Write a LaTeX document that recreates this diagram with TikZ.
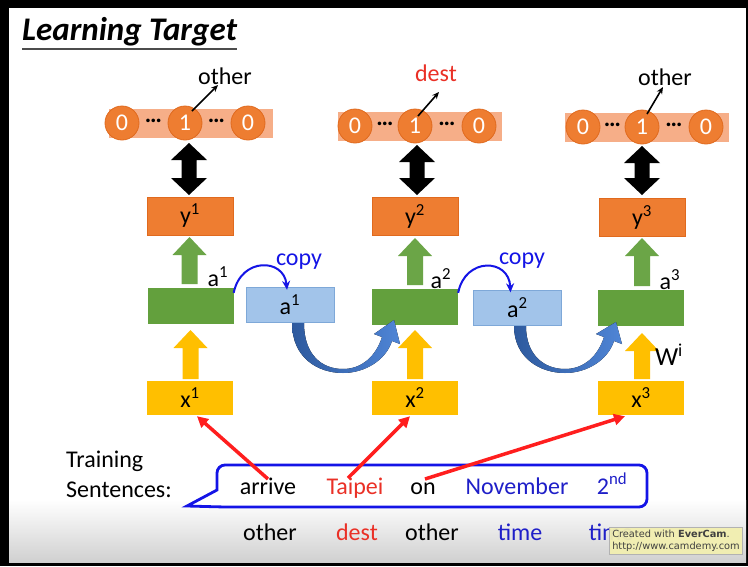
\documentclass[tikz,border=0pt]{standalone}
\usepackage{fontspec}
\setmainfont{Carlito}
\newfontfamily\wmfont{DejaVu Sans}
\usetikzlibrary{arrows.meta,calc}
\definecolor{orfill}{HTML}{EE7D31}
\definecolor{ordraw}{HTML}{E06A1E}
\definecolor{barfill}{HTML}{F6AE88}
\definecolor{grfill}{HTML}{63A03D}
\definecolor{grarrow}{HTML}{6BA547}
\definecolor{yel}{HTML}{FFBF00}
\definecolor{lblue}{HTML}{A2C4EA}
\definecolor{lbdraw}{HTML}{7EA8D8}
\definecolor{cdark}{HTML}{2E5A9E}
\definecolor{clight}{HTML}{4F85D6}
\definecolor{copyblue}{HTML}{1414E6}
\definecolor{txtblue}{HTML}{1F1FC8}
\definecolor{txtred}{HTML}{EA3026}
\definecolor{redline}{HTML}{FF1E1E}
\definecolor{wmfill}{HTML}{F2EFB0}
\newcommand\myfs{\fontsize{24}{30}\selectfont}
\newcommand\myup[4]{\fill[#4] (#1-8,#3) -- (#1-8,#2+18) -- (#1-17,#2+18) -- (#1,#2) -- (#1+17,#2+18) -- (#1+8,#2+18) -- (#1+8,#3) -- cycle;}
\newcommand\mydbl[3]{\fill[black] (#1,#2) -- (#1+18,#2+17) -- (#1+7.5,#2+17) -- (#1+7.5,#3-17) -- (#1+18,#3-17) -- (#1,#3) -- (#1-18,#3-17) -- (#1-7.5,#3-17) -- (#1-7.5,#2+17) -- (#1-18,#2+17) -- cycle;}
\begin{document}
\begin{tikzpicture}[x=1pt,y=-1pt,
  every node/.style={font=\myfs, inner sep=0pt},
  word/.style={anchor=base},
  box/.style={rectangle, minimum width=86pt, minimum height=37pt},
  ybox/.style={box, minimum height=38pt, fill=orfill, draw=ordraw},
  gbox/.style={box, minimum height=36pt, fill=grfill},
  xbox/.style={box, minimum height=34pt, fill=yel},
  bbox/.style={box, minimum width=88pt, minimum height=35pt, fill=lblue, draw=lbdraw},
  barbox/.style={rectangle, minimum width=164pt, minimum height=29pt, fill=barfill},
  circ/.style={circle, minimum size=34pt, fill=orfill, draw=ordraw, line width=0.8pt, text=white},
  dotsn/.style={font=\fontsize{24}{24}\selectfont\bfseries},
  copyarr/.style={-{Stealth[length=9pt,width=8pt]}, line width=2pt, draw=copyblue},
  redarr/.style={-{Triangle[length=11pt,width=11pt]}, line width=3.5pt, draw=redline},
  ptr/.style={-{Stealth[length=7pt,width=6pt]}, line width=1.6pt},
  bubble/.style={draw=copyblue, line width=2.8pt, fill=white}
]
\useasboundingbox (0,0) rectangle (748,566);
% background and frame
\fill[black] (0,0) rectangle (748,566);
\fill[white] (9,8) rectangle (746,500);
\shade[top color=white, bottom color={rgb,255:red,208;green,208;blue,208}] (9,500) rectangle (746,562);

% title
\node[anchor=base west, font=\fontsize{33}{38}\selectfont\bfseries\itshape] (title) at (22,40) {Learning Target};
\draw[line width=2pt, black!70] (title.south west |- 0,49) -- (title.south east |- 0,49);

% ---------- one-hot bars ----------
\node[barbox] (bar1) at (191,123.5) {};
\node[barbox] (bar2) at (420,126) {};
\node[barbox] (bar3) at (647,127.5) {};
\node[circ] (l1) at (122,123) {0};
\node[circ] (m1) at (185,123) {1};
\node[circ] (r1) at (248,123) {0};
\node[circ] (l2) at (355,126) {0};
\node[circ] (m2) at (415,126) {1};
\node[circ] (r2) at (479,126) {0};
\node[circ] (l3) at (583,127) {0};
\node[circ] (m3) at (642,127) {1};
\node[circ] (r3) at (706,127) {0};
\node[dotsn] (d1a) at (153.5,121) {…};
\node[dotsn] (d1b) at (216.5,121) {…};
\node[dotsn] (d2a) at (385,124) {…};
\node[dotsn] (d2b) at (447,124) {…};
\node[dotsn] (d3a) at (612.5,125) {…};
\node[dotsn] (d3b) at (674,125) {…};

\node[word] (lab1) at (225,84) {other};
\node[word, text=txtred] (lab2) at (436,81) {dest};
\node[word] (lab3) at (665,85) {other};
\coordinate (t1) at (218,85);
\coordinate (t2) at (439,92);
\coordinate (t3) at (663,87);
\draw[ptr] ($(m1)+(7,-12)$) -- (t1);
\draw[ptr] ($(m2)+(3,-10)$) -- (t2);
\draw[ptr] ($(m3)+(5,-13)$) -- (t3);

% double arrows
\mydbl{189}{143}{195}
\mydbl{417}{145}{195}
\mydbl{642}{146}{195}

% ---------- y boxes ----------
\node[ybox] (y1) at (190,216) {y\textsuperscript{1}};
\node[ybox] (y2) at (415,216) {y\textsuperscript{2}};
\node[ybox] (y3) at (642,217) {y\textsuperscript{3}};

% green arrows
\myup{189.5}{237}{284}{grarrow}
\myup{415}{238}{285}{grarrow}
\myup{642}{238}{286}{grarrow}

% ---------- hidden layers ----------
\node[gbox] (g1) at (190.5,306) {};
\node[gbox] (g2) at (415,307) {};
\node[gbox] (g3) at (641,308) {};
\node (al1) at (218,277) {a\textsuperscript{1}};
\node (al2) at (441,279) {a\textsuperscript{2}};
\node (al3) at (670,280) {a\textsuperscript{3}};

\node[bbox] (b1) at (290,305) {a\textsuperscript{1}};
\node[bbox] (b2) at (517.5,308) {a\textsuperscript{2}};

% copy arrows
\draw[copyarr] ([yshift=-5pt]g1.north east) .. controls (241,257) and (284,258) .. ([xshift=-3pt,yshift=-2.5pt]b1.north);
\draw[copyarr] ([yshift=-4pt]g2.north east) .. controls (465,257) and (509,258) .. ([xshift=-7pt,yshift=-2pt]b2.north);
\node[text=copyblue] (cp1) at (299,262) {copy};
\node[text=copyblue] (cp2) at (522,261) {copy};

% big curved arrows
\fill[left color=cdark, right color=clight]
  (292,323) .. controls (292,358) and (318,373) .. (343,373)
  .. controls (365,373) and (386,360) .. (392,341)
  -- (400,344) -- (394,320) -- (374,334) -- (382,337)
  .. controls (376,356) and (362,369) .. (343,369)
  .. controls (322,369) and (304,355) .. (304,323) -- cycle;
\begin{scope}[xshift=222pt]
\fill[left color=cdark, right color=clight]
  (292,326) .. controls (292,358) and (318,373) .. (343,373)
  .. controls (365,373) and (386,360) .. (392,341)
  -- (400,344) -- (394,322) -- (374,334) -- (382,337)
  .. controls (376,356) and (362,369) .. (343,369)
  .. controls (322,369) and (304,355) .. (304,326) -- cycle;
\end{scope}

% yellow arrows
\myup{190.5}{330}{379}{yel}
\myup{415}{330}{379}{yel}
\myup{642}{333}{379}{yel}
\node[font=\fontsize{26}{30}\selectfont] (wi) at (669,355) {W\textsuperscript{i}};

% ---------- inputs ----------
\node[xbox] (x1) at (190,398) {x\textsuperscript{1}};
\node[xbox] (x2) at (415,398) {x\textsuperscript{2}};
\node[xbox] (x3) at (641,398) {x\textsuperscript{3}};

% ---------- training sentence ----------
\node[anchor=base west] (train1) at (66,467) {Training};
\node[anchor=base west] (train2) at (66,497) {Sentences:};
\draw[bubble] (217,490) [rounded corners=8pt] -- (217,465) -- (647,465) -- (647,507) -- (224,507) [sharp corners] -- (187,506) -- cycle;
\node[word] (arrive) at (268,494) {arrive};
\node[word, text=txtred] (taipei) at (355,494) {Taipei};
\node[word] (on) at (423,494) {on};
\node[word, text=txtblue] (nov) at (517,494) {November};
\node[word, text=txtblue] (nd) at (612,494) {2\textsuperscript{nd}};

\draw[redarr] ([yshift=15pt]arrive.base) -- ([xshift=7pt,yshift=-1pt]x1.south);
\draw[redarr] ([xshift=-7pt,yshift=16pt]taipei.base) -- ([xshift=-5pt,yshift=-1pt]x2.south);
\draw[redarr] ([xshift=2pt,yshift=15pt]on.base) -- ([xshift=-16pt,yshift=-1pt]x3.south);

% labels
\node[word] (o1) at (270,540) {other};
\node[word, text=txtred] (o2) at (357,540) {dest};
\node[word] (o3) at (432,540) {other};
\node[word, text=txtblue] (o4) at (520,540) {time};
\node[word, text=txtblue] (o5) at (611,540) {time};

% watermark
\node[fill=wmfill, fill opacity=0.95, text opacity=1, draw=black!30, line width=0.6pt, minimum width=130pt, minimum height=27pt, align=left, inner xsep=3pt, text=black!75, font=\wmfont\fontsize{9.8}{12.5}\selectfont] (wm) at (676,541) {Created with \textbf{EverCam}.\\http://www.camdemy.com};
\end{tikzpicture}
\end{document}
